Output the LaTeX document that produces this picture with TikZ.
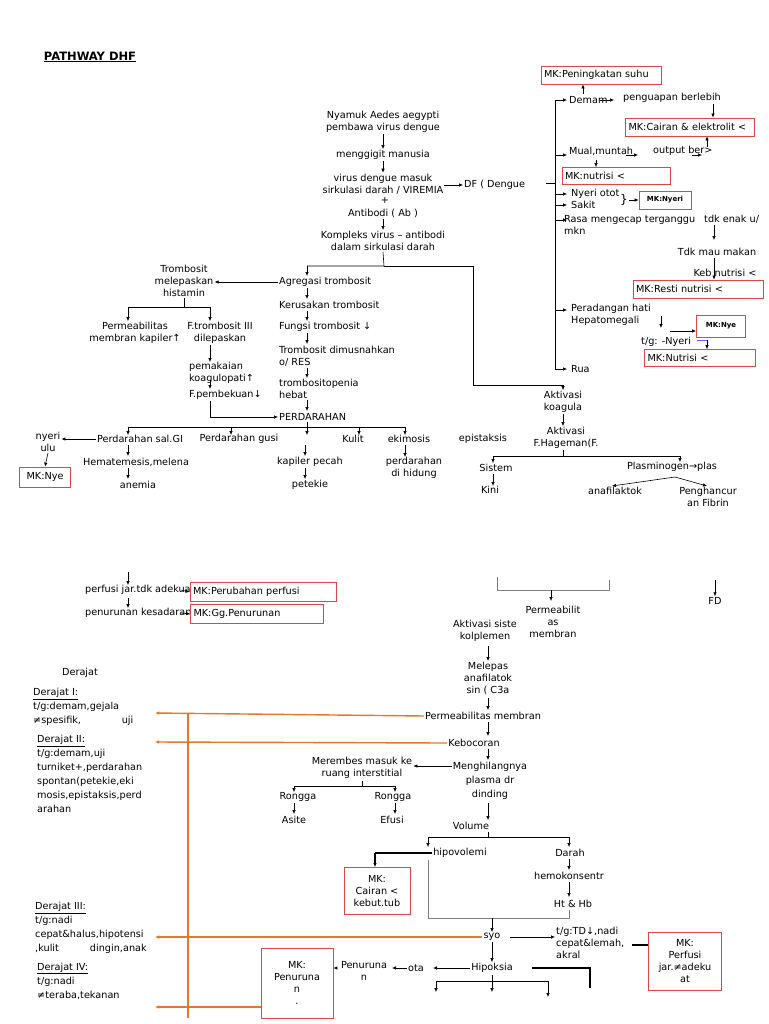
\documentclass[tikz,border=0pt]{standalone}
\usepackage{fontspec}
\setmainfont{DejaVu Sans}
\usetikzlibrary{arrows.meta,calc,positioning}
\definecolor{orgline}{RGB}{230,120,40}
\definecolor{mkred}{RGB}{225,70,70}
\begin{document}
\begin{tikzpicture}[x=1pt,y=-1pt,font=\fontsize{9.7}{12}\selectfont]

  \tikzstyle{txt} = [inner sep=1pt,align=center]
  \tikzstyle{txtl} = [inner sep=1pt,align=left,anchor=west]
  \tikzstyle{arr} = [-{Latex[length=4pt,width=3.5pt]},line width=0.6pt]
  \tikzstyle{ln} = [line width=0.6pt]
  \tikzstyle{mk} = [draw=mkred,line width=0.8pt,fill=white,inner sep=3pt,align=left]
  \tikzstyle{mkc} = [draw=mkred,line width=0.8pt,fill=white,inner sep=2pt,align=center]
  \tikzstyle{org} = [draw=orgline,line width=1.4pt]
  \tikzstyle{deg} = [inner sep=0pt,align=left,anchor=west,font=\fontsize{9.7}{14}\selectfont]

  \useasboundingbox (0,0) rectangle (768,1024);

  \node[font=\bfseries\fontsize{11.5}{12}\selectfont] (title) at (90,57) {\underline{PATHWAY DHF}};

  % main chain
  \node[txt] (nyamuk) at (383,122) {Nyamuk Aedes aegypti\\pembawa virus dengue};
  \node[txt] (gigit) at (383,155) {menggigit manusia};
  \node[txt] (viremia) at (383,184) {virus dengue masuk\\sirkulasi darah / VIREMIA};
  \node[txt] (plus) at (385,200) {+};
  \node[txt] (ab) at (383,213) {Antibodi ( Ab )};
  \node[txt] (kompleks) at (383,241) {Kompleks virus – antibodi\\dalam sirkulasi darah};
  \node[txtl] (df) at (463,185) {DF ( Dengue};
  \draw[arr] (nyamuk) -- (gigit);
  \draw[arr] (gigit) -- (viremia);
  \draw[arr] (ab) -- (kompleks);
  \draw[arr] (viremia.east |- df.west) -- (df.west);

  \node[txtl] (agregasi) at (278,282) {Agregasi trombosit};
  \node[txtl] (kerusakan) at (278,305) {Kerusakan trombosit};
  \node[txtl] (fungsi) at (278,327) {Fungsi trombosit ↓};
  \node[txtl] (musnah) at (278,356) {Trombosit dimusnahkan\\o/ RES};
  \node[txtl] (trombosito) at (278,389) {trombositopenia\\hebat};
  \node[txtl] (perdarahan) at (278,417) {PERDARAHAN};
  \draw[ln] (kompleks.south) -- (384,266) -- (307,266);
  \draw[arr] (307,266) -- (307,276);
  \draw[arr] (307,288) -- (307,299);
  \draw[arr] (307,311) -- (307,321);
  \draw[arr] (307,333) -- (307,344);
  \draw[arr] (307,368) -- (307,378);
  \draw[arr] (307,400) -- (307,411);

  \node[txt] (histamin) at (184,281) {Trombosit\\melepaskan\\histamin};
  \draw[arr] (agregasi.west) -- (histamin.east |- agregasi.west);
  \node[txt] (permkap) at (135,333) {Permeabilitas\\membran kapiler↑};
  \node[txt] (ftromb) at (220,333) {F.trombosit III\\dilepaskan};
  \node[txtl] (pemakaian) at (188,373) {pemakaian\\koagulopati↑};
  \node[txtl] (fpemb) at (188,395) {F.pembekuan↓};
  \draw[ln] (histamin.south) -- (184,307) (128,307) -- (210,307);
  \draw[arr] (128,307) -- (permkap.north -| 128,0);
  \draw[arr] (210,307) -- (ftromb.north -| 210,0);
  \draw[arr] (210,345) -- (210,362);
  \draw[arr] (210,380) -- (210,389);
  \draw[arr] (210,401) -- (210,417) -- (perdarahan.west);

  % bleeding
  \node[txt] (salgi) at (140,439) {Perdarahan sal.GI};
  \node[txt] (gusi) at (239,439) {Perdarahan gusi};
  \node[txt] (kulit) at (353,439) {Kulit};
  \node[txt] (ekimosis) at (409,439) {ekimosis};
  \node[txt] (epistaksis) at (483,439) {epistaksis};
  \node[txt] (nyeriulu) at (48,442) {nyeri\\ulu};
  \node[mk,minimum width=51,minimum height=20] (mknye1) at (45,477) {MK:Nye};
  \node[txt] (hemat) at (136,462) {Hematemesis,melena};
  \node[txt] (anemia) at (138,485) {anemia};
  \node[txt] (kapiler) at (310,462) {kapiler pecah};
  \node[txt] (petekie) at (310,485) {petekie};
  \node[txt] (hidung) at (414,468) {perdarahan\\di hidung};
  \draw[ln] (perdarahan.south -| 307,0) -- (307,427) (128,427) -- (405,427);
  \foreach \x in {128,231,307,359,405} { \draw[arr] (\x,427) -- (\x,435); }
  \draw[arr] (salgi.west) -- (salgi.west -| nyeriulu.east);
  \draw[arr] (nyeriulu.south) -- (mknye1.north);
  \draw[arr] (128,445) -- (128,456);
  \draw[arr] (128,468) -- (128,479);
  \draw[arr] (305,445) -- (305,456);
  \draw[arr] (305,468) -- (305,479);
  \draw[arr] (405,445) -- (405,457);

  % right column
  \node[txt] (koagula) at (563,402) {Aktivasi\\koagula};
  \node[txt] (hageman) at (566,438) {Aktivasi\\F.Hageman(F.};
  \draw[ln] (384,266) -- (473,266) -- (473,385) -- (563,385);
  \draw[arr] (563,385) -- (koagula.north);
  \draw[arr] (koagula.south) -- (koagula.south |- hageman.north);
  \draw[ln] (555,100) -- (555,370) (546,183) -- (555,183);

  \node[mk,text width=114,minimum height=18] (mksuhu) at (601,75) {MK:Peningkatan suhu};
  \node[txtl] (demam) at (568,100) {Demam};
  \node[txtl] (penguapan) at (622,98) {penguapan berlebih};
  \node[mk,text width=123,minimum height=18] (mkcairan) at (690,127) {MK:Cairan \& elektrolit <};
  \node[txtl] (mual) at (568,151) {Mual,muntah};
  \node[txtl] (output) at (652,151) {output ber>};
  \node[mk,text width=102,minimum height=17] (mknutrisi) at (616,176) {MK:nutrisi <};
  \node[txtl] (otot) at (570,194) {Nyeri otot};
  \node[txtl] (sakit) at (570,205) {Sakit};
  \node[txt,font=\fontsize{12}{12}\selectfont] (kurung) at (624,200) {\}};
  \node[mk,minimum width=52,minimum height=18,font=\bfseries\fontsize{7}{8}\selectfont] (mknyeri) at (665,200) {MK:Nyeri};
  \node[txtl] (rasa) at (563,225) {Rasa mengecap terganggu\\mkn};
  \node[txtl] (tdkenak) at (703,219) {tdk enak u/};
  \node[txt] (tdkmau) at (717,252) {Tdk mau makan};
  \node[txt] (keb) at (725,273) {Keb nutrisi <};
  \node[mk,text width=124,minimum height=18] (mkresti) at (698,289) {MK:Resti nutrisi <};
  \node[txtl] (radang) at (570,315) {Peradangan hati\\Hepatomegali};
  \node[mk,minimum width=49,minimum height=22,font=\bfseries\fontsize{7}{8}\selectfont] (mknye2) at (721,326) {MK:Nye};
  \node[txtl] (tgnyeri) at (640,342) {t/g: -Nyeri};
  \node[mk,text width=105,minimum height=17] (mknutrisi2) at (700,358) {MK:Nutrisi <};
  \node[txtl] (rua) at (570,369) {Rua};
  \foreach \y in {100,155,194,205,220,310,369} { \draw[arr] (555,\y) -- (567,\y); }
  \draw[arr] (583,94) -- (mksuhu.south -| 583,0);
  \draw[arr] (600,100) -- (614,100);
  \draw[arr] (713,104) -- (mkcairan.north -| 713,0);
  \draw[arr] (626,155) -- (638,155);
  \draw[arr] (692,155) -- (702,155);
  \draw[arr] (707,147) -- (mkcairan.south -| 707,0);
  \draw[arr] (596,160) -- (mknutrisi.north -| 596,0);
  \draw[arr] (kurung.east) -- (mknyeri.west);
  \draw[arr] (714,225) -- (714,240);
  \draw[arr] (714,258) -- (mkresti.north -| 714,0);
  \draw[arr] (661,316) -- (661,328);
  \draw[arr] (670,331) -- (mknye2.west |- 670,331);
  \draw[blue!60,line width=0.6pt] (697,340) -- (707,340);
  \draw[arr] (707,340) -- (mknutrisi2.north -| 707,0);

  \node[txt] (sistem) at (496,468) {Sistem};
  \node[txt] (kini) at (490,490) {Kini};
  \node[txt] (plasmin) at (672,467) {Plasminogen→plas};
  \node[txt] (anafil) at (615,491) {anafilaktok};
  \node[txt] (fibrin) at (708,497) {Penghancur\\an Fibrin};
  \draw[ln] (hageman.south -| 563,0) -- (563,456) (493,456) -- (680,456);
  \draw[arr] (493,456) -- (493,463);
  \draw[arr] (680,456) -- (680,462);
  \draw[arr] (493,474) -- (493,486);
  \draw[arr] (675,477) -- (612,486);
  \draw[arr] (675,477) -- (707,486);

  % lower part
  \node[txtl] (perfusi) at (84,590) {perfusi jar.tdk adekua};
  \node[txtl] (kesadaran) at (84,613) {penurunan kesadaran};
  \node[mk,text width=140,minimum height=19] (mkperfusi) at (263,592) {MK:Perubahan perfusi};
  \node[mk,text width=127,minimum height=19] (mkgg) at (257,614) {MK:Gg.Penurunan};
  \draw[arr] (128,572) -- (128,585);
  \draw[arr] (128,598) -- (128,608);
  \draw[arr] (181,590) -- (mkperfusi.west);
  \draw[arr] (181,613) -- (mkgg.west);
  \draw[ln,gray] (497,577) -- (497,590) -- (609,590) -- (609,580);
  \draw[arr] (551,590) -- (551,601);
  \node[txt] (permab) at (553,622) {Permeabilit\\as\\membran};
  \node[txt] (fd) at (715,601) {FD};
  \draw[arr] (715,580) -- (fd.north);

  \node[txt] (siste) at (485,631) {Aktivasi siste\\kolplemen};
  \node[txt] (melepas) at (488,678) {Melepas\\anafilatok\\sin ( C3a};
  \node[txt] (permmem) at (483,716) {Permeabilitas membran};
  \node[txt] (bocor) at (474,743) {Kebocoran};
  \node[txt,font=\fontsize{9.7}{14}\selectfont] (hilang) at (490,781) {Menghilangnya\\plasma dr\\dinding};
  \node[txt] (rembes) at (362,768) {Merembes masuk ke\\ruang interstitial};
  \node[txt] (rongga1) at (298,797) {Rongga};
  \node[txt] (rongga2) at (393,797) {Rongga};
  \node[txt] (asite) at (294,820) {Asite};
  \node[txt] (efusi) at (392,820) {Efusi};
  \node[txt] (volume) at (471,826) {Volume};
  \draw[arr] (488,646) -- (488,661);
  \draw[arr] (488,698) -- (488,710);
  \draw[arr] (488,722) -- (488,736);
  \draw[arr] (488,749) -- (488,760);
  \draw[arr] (hilang.west |- 0,766) -- (rembes.east |- 0,766);
  \draw[ln] (362,781) -- (362,786) (294,786) -- (395,786);
  \draw[arr] (294,786) -- (294,792);
  \draw[arr] (395,786) -- (395,792);
  \draw[arr] (294,803) -- (294,814);
  \draw[arr] (395,803) -- (395,814);
  \draw[arr] (488,803) -- (488,820);

  \node[txt] (hipo) at (460,853) {hipovolemi};
  \node[txt] (darah) at (570,853) {Darah};
  \node[txt] (hemokon) at (569,876) {hemokonsentr};
  \node[txt] (ht) at (573,904) {Ht \& Hb};
  \node[mkc,minimum width=66,minimum height=47] (mkcairan2) at (377,891) {MK:\\Cairan <\\kebut.tub};
  \draw[ln] (488,832) -- (488,837) (428,837) -- (569,837);
  \draw[arr] (428,837) -- (428,847);
  \draw[arr] (569,837) -- (569,847);
  \draw[line width=2pt] (hipo.west) -- (375,853);
  \draw[arr,line width=2pt] (375,853) -- (mkcairan2.north -| 375,0);
  \draw[ln,gray] (428,860) -- (428,918) -- (569,918) -- (569,910);
  \draw[arr] (569,859) -- (569,870);
  \draw[arr] (569,882) -- (569,897);

  \node[txt] (syo) at (492,937) {syo};
  \node[txtl] (tgtd) at (555,943) {t/g:TD↓,nadi\\cepat\&lemah,\\akral};
  \node[mkc,minimum width=73,minimum height=58] (mkperf2) at (685,961) {MK:\\Perfusi\\jar.≠adeku\\at};
  \node[txt] (hipoksia) at (492,968) {Hipoksia};
  \node[txt] (ota) at (416,968) {ota};
  \node[txt] (penuruna) at (364,971) {Penuruna\\n};
  \node[mkc,minimum width=72,minimum height=70] (mkpen) at (297,983) {MK:\\Penuruna\\n\\.};
  \draw[arr] (492,918) -- (syo.north);
  \draw[arr] (510,937) -- (tgtd.west |- 0,937);
  \draw[line width=2pt] (632,945) -- (mkperf2.west |- 0,945);
  \draw[arr] (syo.south) -- (hipoksia.north);
  \draw[arr] (hipoksia.west) -- (433,968);
  \draw[arr] (ota.west) -- (392,968);
  \draw[arr,line width=1.6pt] (337,968) -- (mkpen.east |- 0,968);
  \draw[line width=2pt] (532,968) -- (590,968) -- (590,988);
  \draw[ln] (492,975) -- (492,981) (436,981) -- (548,981);
  \draw[arr] (436,981) -- (436,992);
  \draw[arr] (492,981) -- (492,992);
  \draw[arr] (548,981) -- (548,997);

  % grades
  \node (derajat) at (80,673) {Derajat};
  \node[deg] (der1) at (33,707) {\underline{Derajat I:}\\t/g:demam,gejala\\≠spesifik,\hspace{4.2em}uji};
  \node[deg] (der2) at (37,774) {\underline{Derajat II:}\\t/g:demam,uji\\turniket+,perdarahan\\spontan(petekie,eki\\mosis,epistaksis,perd\\arahan};
  \node[deg] (der3) at (35,928) {\underline{Derajat III:}\\t/g:nadi\\cepat\&halus,hipotensi\\,kulit\hspace{3.2em}dingin,anak};
  \node[deg] (der4) at (37,981) {\underline{Derajat IV:}\\t/g:nadi\\≠teraba,tekanan};
  \draw[org] (188,713) -- (188,1018);
  \draw[arr,org] (permmem.west) -- (155,713);
  \draw[arr,org] (bocor.west) -- (155,742);
  \draw[arr,org] (syo.west) -- (155,937);
  \draw[arr,org] (mkpen.west |- 0,1007) -- (155,1007);

\end{tikzpicture}
\end{document}
